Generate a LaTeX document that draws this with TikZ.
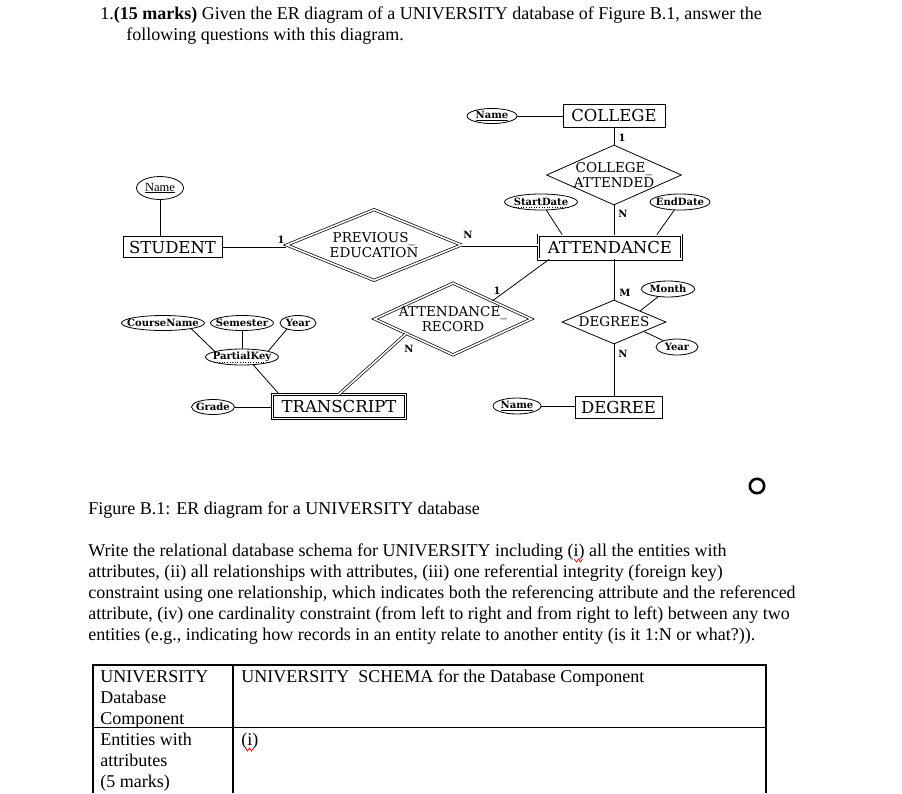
\documentclass[tikz,border=0pt]{standalone}
\usepackage{fontspec}
\setmainfont{Liberation Serif}
\newfontfamily\erf{DejaVu Serif}
\usetikzlibrary{shapes.geometric,calc}
\newcommand\boxfont{\erf\fontsize{16.5}{18}\selectfont}
\newcommand\relfont{\erf\fontsize{13.5}{15}\selectfont}
\newcommand\attfont{\erf\bfseries\fontsize{10}{11}\selectfont}
\newcommand\cardfont{\erf\bfseries\fontsize{10}{11}\selectfont}
\newcommand\txtfont{\fontsize{18}{21}\selectfont}
\begin{document}
\begin{tikzpicture}[x=1pt,y=-1pt,line width=0.8pt,
  ent/.style={draw,rectangle,inner sep=0,font=\boxfont},
  wkent/.style={ent,double,double distance=1.6pt,line width=0.7pt},
  rel/.style={draw,diamond,inner sep=0},
  wkrel/.style={rel,double,double distance=1.6pt,line width=0.7pt},
  rlabel/.style={font=\relfont,align=center,inner sep=0},
  attr/.style={draw,ellipse,inner sep=0},
  alabel/.style={font=\attfont,inner sep=0},
  card/.style={font=\cardfont,inner sep=0},
  dbl/.style={double,double distance=1.6pt,line width=0.7pt},
  txt/.style={anchor=base west,inner sep=0,font=\txtfont},
  keyline/.style={dotted,line width=0.6pt},
  tbl/.style={line width=1.1pt},
  squiggle/.style={red,line width=0.7pt},
]
\useasboundingbox[fill=white] (0,0) rectangle (902,793);

% ---------- question text ----------
\node[txt] (t1) at (100,19) {1.\textbf{(15 marks)} Given the ER diagram of a UNIVERSITY database of Figure B.1, answer the};
\node[txt] (t2) at (126,40) {following questions with this diagram.};

% ---------- ER diagram: entities ----------
\node[ent,minimum width=102,minimum height=23] (college) at (614,115.5) {COLLEGE};
\node[wkent,minimum width=143,minimum height=24] (att) at (610,247) {ATTENDANCE};
\node[ent,minimum width=99,minimum height=21] (student) at (172.5,247) {STUDENT};
\node[wkent,minimum width=133,minimum height=24] (transcript) at (339,406.5) {TRANSCRIPT};
\node[ent,minimum width=87,minimum height=22] (degree) at (618.5,407) {DEGREE};

% ---------- relationships ----------
\node[rel,minimum width=135,minimum height=60,label={[rlabel]center:COLLEGE\_\\ATTENDED}] (colatt) at (614,175) {};
\node[wkrel,minimum width=175,minimum height=71,label={[rlabel]center:PREVIOUS\_\\EDUCATION}] (prevedu) at (374,245) {};
\node[wkrel,minimum width=157,minimum height=72,label={[rlabel]center:ATTENDANCE\_\\RECORD}] (attrec) at (453,319) {};
\node[rel,minimum width=104,minimum height=44,label={[rlabel]center:DEGREES}] (degrees) at (614,322) {};

% ---------- attributes ----------
\node[attr,minimum width=50,minimum height=15,label={[alabel]center:\underline{Name}}] (cname) at (492,116) {};
\node[attr,minimum width=73,minimum height=16,label={[alabel]center:StartDate}] (startd) at (541,202) {};
\node[attr,minimum width=60,minimum height=16,label={[alabel]center:EndDate}] (endd) at (680,202) {};
\node[attr,minimum width=47,minimum height=23,label={[inner sep=0,font=\fontsize{12.5}{13}\selectfont]center:\underline{Name}}] (sname) at (160,188) {};
\node[attr,minimum width=83,minimum height=15,label={[alabel]center:CourseName}] (course) at (163,323) {};
\node[attr,minimum width=63,minimum height=15,label={[alabel]center:Semester}] (sem) at (242,323) {};
\node[attr,minimum width=36,minimum height=15,label={[alabel]center:Year}] (year1) at (298,323) {};
\node[attr,minimum width=73,minimum height=16,label={[alabel]center:PartialKey}] (pkey) at (242,357) {};
\node[attr,minimum width=43,minimum height=15,label={[alabel]center:Grade}] (grade) at (213,407) {};
\node[attr,minimum width=53,minimum height=16,label={[alabel]center:Month}] (month) at (668,289) {};
\node[attr,minimum width=42,minimum height=16,label={[alabel]center:Year}] (year2) at (677,347) {};
\node[attr,minimum width=48,minimum height=16,label={[alabel]center:\underline{Name}}] (dname) at (517,406) {};

% partial key dotted underlines
\draw[keyline] ($(startd)+(-28,5.5)$) -- ($(startd)+(28,5.5)$);
\draw[keyline] ($(pkey)+(-28,5.5)$) -- ($(pkey)+(28,5.5)$);

% ---------- connectors ----------
\draw (cname.east) -- (cname.east -| college.west);
\draw (college.south) -- (colatt.north);
\draw (colatt.south) -- (colatt.south |- att.north);
\draw (startd) -- ($(att.north west)+(24,0)$);
\draw (endd) -- ($(att.north east)+(-25,0)$);
\draw (sname.south) -- (sname.south |- student.north);
\draw (student.east) -- (student.east -| prevedu.west);
\draw[dbl] (prevedu.east) -- (prevedu.east -| att.west);
\draw ($(att.south west)+(11,0)$) -- (attrec.north east);
\draw (degrees.north |- att.south) -- (degrees.north);
\draw[dbl] ($(attrec.south west)+(-8,-3)$) -- (transcript.north);
\draw (degrees.south) -- (degrees.south |- degree.north);
\draw (dname.east) -- (dname.east -| degree.west);
\draw (month) -- (degrees.north east);
\draw (year2) -- ($(degrees.south east)+(3,-2)$);
\draw ($(course)+(28,5.5)$) -- ($(pkey)+(-27,-5.4)$);
\draw (sem.south) -- (pkey.north);
\draw ($(year1)+(-11,5.9)$) -- ($(pkey)+(26,-5.6)$);
\draw ($(pkey)+(11,7.6)$) -- ($(transcript.north west)+(7,0)$);
\draw (grade.east) -- (grade.east -| transcript.west);

% ---------- cardinalities ----------
\node[card] (c1) at (622,138) {1};
\node[card] (c2) at (623,214) {N};
\node[card] (c3) at (281,240) {1};
\node[card] (c4) at (468,235) {N};
\node[card] (c5) at (497,291) {1};
\node[card] (c6) at (409,349) {N};
\node[card] (c7) at (625,293) {M};
\node[card] (c8) at (623,354) {N};

% ---------- circle mark ----------
\draw[line width=2.6pt] (757,486) circle (7.2);

% ---------- caption and question ----------
\node[txt] (cap) at (88,514) {Figure B.1: ER diagram for a UNIVERSITY database};
\node[txt] (p1) at (88,556) {Write the relational database schema for UNIVERSITY including (i) all the entities with};
\node[txt] (p2) at (88,577) {attributes, (ii) all relationships with attributes, (iii) one referential integrity (foreign key)};
\node[txt] (p3) at (88,598) {constraint using one relationship, which indicates both the referencing attribute and the referenced};
\node[txt] (p4) at (88,619) {attribute, (iv) one cardinality constraint (from left to right and from right to left) between any two};
\node[txt] (p5) at (88,640) {entities (e.g., indicating how records in an entity relate to another entity (is it 1:N or what?)).};
\draw[squiggle] (574.5,559) -- (576.5,562) -- (578.5,559) -- (580.5,562) -- (582.5,559);

% ---------- table ----------
\coordinate (tl) at (93,665);
\coordinate (tr) at (766,665);
\coordinate (bl) at (93,793);
\coordinate (br) at (766,793);
\coordinate (mt) at (233,665);
\coordinate (mb) at (233,793);
\coordinate (dl) at (93,727);
\coordinate (dr) at (766,727);
\draw[tbl] (bl) -- (tl) -- (tr) -- (br);
\draw[tbl] (mt) -- (mb);
\draw[line width=0.9pt] (dl) -- (dr);
\node[txt] (a1) at (100,682) {UNIVERSITY};
\node[txt] (a2) at (100,703) {Database};
\node[txt] (a3) at (100,724) {Component};
\node[txt] (b1) at (241,682) {UNIVERSITY\ \ SCHEMA for the Database Component};
\node[txt] (a4) at (100,745) {Entities with};
\node[txt] (a5) at (100,766) {attributes};
\node[txt] (a6) at (100,787) {(5 marks)};
\node[txt] (b2) at (241,745) {(i)};
\draw[squiggle] (245.5,748) -- (247.5,751) -- (249.5,748) -- (251.5,751) -- (253.5,748);
\end{tikzpicture}
\end{document}
